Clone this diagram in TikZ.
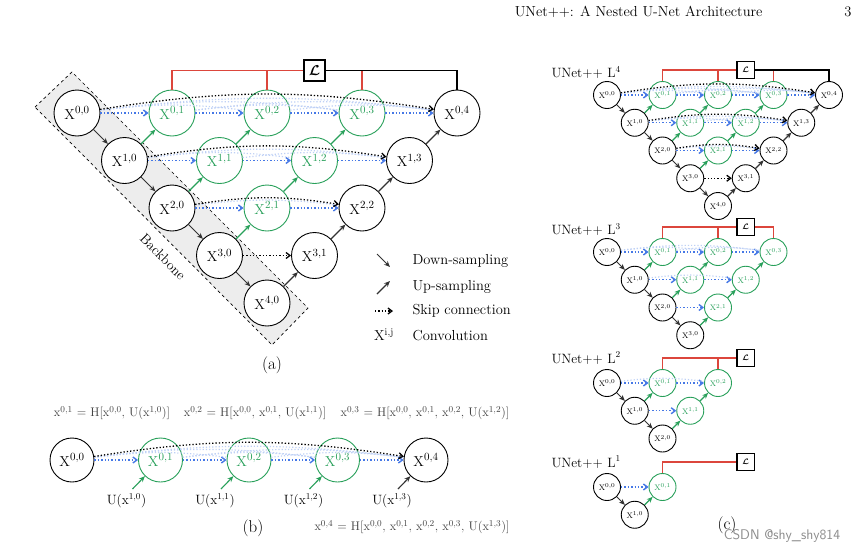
\documentclass[tikz,border=0pt]{standalone}
\usetikzlibrary{arrows.meta}
\usepackage{bm}
\definecolor{ugreen}{RGB}{40,160,90}
\definecolor{ublue}{RGB}{70,120,230}
\definecolor{ured}{RGB}{220,70,60}
\tikzset{
 cnode/.style={circle,draw,fill=white,line width=0.9pt,inner sep=0pt},
 down/.style={-{Stealth[length=6pt,width=5pt]},line width=1pt,black!80},
 upg/.style={-{Stealth[length=6pt,width=5pt]},line width=1.1pt,ugreen},
 upk/.style={-{Stealth[length=6pt,width=5pt]},line width=1.1pt,black!80},
 skipb/.style={-{Straight Barb[length=4pt,width=6pt]},dotted,line width=1.4pt,ublue},
 skipl/.style={dotted,line width=1.2pt,ublue!35},
 skipk/.style={-{Straight Barb[length=4pt,width=6pt]},dotted,line width=1.3pt,black},
 lossbox/.style={draw,fill=white,line width=1.3pt,inner sep=0pt},
}
% #1 prefix #2 x0 #3 y0 #4 dx #5 r #6 L #7 full #8 font
\newcommand\unetnet[8]{%
 \foreach \i in {0,...,#6}{%
  \pgfmathtruncatemacro\jmax{#6-\i}%
  \foreach \j in {0,...,\jmax}{%
   \pgfmathtruncatemacro\isblack{((\j==0)||((#7==1)&&(\j==\jmax)))?1:0}%
   \ifnum\isblack=1 \def\nc{black}\else\def\nc{ugreen}\fi
   \node[cnode,draw=\nc,text=\nc,minimum size=2*#5,font=#8] (#1\i\j) at ({#2+#4*(\j+\i/2)},{#3+#4*\i/2}) {$\mathrm{X}^{\i,\j}$};
  }}%
 \pgfmathsetmacro\ly{#3-1.85*#5}%
 \pgfmathsetmacro\bx{#2+2.5*#4}%
 \pgfmathsetmacro\lf{#5*0.6}%
 \foreach \j in {1,...,#6}{%
   \pgfmathtruncatemacro\isk{((#7==1)&&(\j==#6))?1:0}%
   \ifnum\isk=1 \def\lc{black}\else\def\lc{ured}\fi
   \draw[\lc,line width=1.2pt] (#10\j.north) |- (\bx,\ly);
 }%
 \node[lossbox,minimum size={0.4*#5+12}] (#1L) at (\bx,\ly) {\fontsize{\lf}{\lf}\selectfont$\bm{\mathcal{L}}$};
 \pgfmathtruncatemacro\lm{#6-1}%
 \foreach \i in {0,...,\lm}{%
  \pgfmathtruncatemacro\ip{\i+1}%
  \draw[down] (#1\i0) -- (#1\ip0);
  \pgfmathtruncatemacro\jmax{#6-\i}%
  \foreach \j in {1,...,\jmax}{%
   \pgfmathtruncatemacro\jm{\j-1}%
   \pgfmathtruncatemacro\isblack{((#7==1)&&(\j==\jmax))?1:0}%
   \ifnum\isblack=1 \draw[upk] (#1\ip\jm) -- (#1\i\j);\else\draw[upg] (#1\ip\jm) -- (#1\i\j);\fi
   \pgfmathtruncatemacro\kb{((#7==1)&&(\i==3))?1:0}%
   \ifnum\kb=1 \draw[skipk] (#1\i\jm) -- (#1\i\j);\else\draw[skipb] (#1\i\jm) -- (#1\i\j);\fi
   \ifnum\j>1
     \pgfmathtruncatemacro\km{\j-2}%
     \foreach \k in {0,...,\km}{\draw[skipl] (#1\i\k) to[bend left=7] (#1\i\j);}%
   \fi
  }%
  \pgfmathtruncatemacro\kk{((#7==1)&&(\jmax>1))?1:0}%
  \ifnum\kk=1 \draw[skipk] (#1\i0) to[bend left=9] (#1\i\jmax);\fi
 }%
}
\begin{document}
\begin{tikzpicture}[x=1pt,y=-1pt]
\useasboundingbox (0,0) rectangle (865,555);
\fill[white] (0,0) rectangle (865,555);
% header
\node[anchor=east,font=\fontsize{14.5}{15}\selectfont] (hd) at (766,12) {UNet++: A Nested U-Net Architecture};
\node[font=\fontsize{14.5}{15}\selectfont] (pg) at (848,12) {3};
% backbone
\draw[dashed,fill=black!7,line width=0.7pt] (35,107) -- (72,72) -- (308,308) -- (272,345) -- cycle;
\node[rotate=-45,font=\fontsize{14}{14}\selectfont] (bb) at (163,257) {Backbone};
% (a)
\unetnet{a}{77}{113}{95}{23}{4}{1}{\fontsize{15}{15}\selectfont}
\node[font=\fontsize{17}{17}\selectfont] (capa) at (272,365) {(a)};
% legend
\coordinate (l1s) at (377,254); \coordinate (l1e) at (390,267);
\coordinate (l2s) at (377,294); \coordinate (l2e) at (390,281);
\coordinate (l3s) at (375,311); \coordinate (l3e) at (393,311);
\draw[down] (l1s) -- (l1e);
\draw[upk] (l2s) -- (l2e);
\draw[skipk] (l3s) -- (l3e);
\node[font=\fontsize{14}{14}\selectfont] (lx) at (384,335) {$\mathrm{X}^{\mathrm{i,j}}$};
\foreach \t/\y [count=\n] in {Down-sampling/261,Up-sampling/287,Skip connection/311,Convolution/336}
  \node[anchor=west,font=\fontsize{14.5}{15}\selectfont] (lt\n) at (409,\y) {\t};
% (b)
\foreach \j in {0,...,4}{
  \ifnum\j=0 \def\nc{black}\else\ifnum\j=4 \def\nc{black}\else\def\nc{ugreen}\fi\fi
  \node[cnode,draw=\nc,text=\nc,minimum size=44pt,font=\fontsize{15}{15}\selectfont] (b\j) at ({72+88.5*\j},460) {$\mathrm{X}^{0,\j}$};
}
\foreach \j in {1,...,4}{
  \pgfmathtruncatemacro\jm{\j-1}
  \draw[skipb] (b\jm) -- (b\j);
  \ifnum\j>1 \pgfmathtruncatemacro\km{\j-2}
    \foreach \k in {0,...,\km}{\draw[skipl] (b\k) to[bend left=7] (b\j);}\fi
  \coordinate (u\j) at ({72+88.5*\j-28},489);
  \ifnum\j=4 \draw[upk] (u\j) -- (b\j);\else\draw[upg] (u\j) -- (b\j);\fi
  \node[font=\fontsize{13.5}{14}\selectfont] (ul\j) at ({72+88.5*\j-34},501) {U(x$^{1,\jm}$)};
}
\draw[skipk] (b0) to[bend left=9] (b4);
\tikzset{eq/.style={font=\fontsize{12.5}{13}\selectfont,text=black!75}}
\node[eq] (e1) at (112,413) {x$^{0,1}$ = H[x$^{0,0}$, U(x$^{1,0}$)]};
\node[eq] (e2) at (255,413) {x$^{0,2}$ = H[x$^{0,0}$, x$^{0,1}$, U(x$^{1,1}$)]};
\node[eq] (e3) at (425,413) {x$^{0,3}$ = H[x$^{0,0}$, x$^{0,1}$, x$^{0,2}$, U(x$^{1,2}$)]};
\node[eq] (e4) at (412,527) {x$^{0,4}$ = H[x$^{0,0}$, x$^{0,1}$, x$^{0,2}$, x$^{0,3}$, U(x$^{1,3}$)]};
\node[font=\fontsize{17}{17}\selectfont] (capb) at (253,528) {(b)};
% (c)
\tikzset{ct/.style={anchor=west,font=\fontsize{13.5}{14}\selectfont}}
\node[ct] (c4) at (548,73) {UNet++ L$^4$};
\unetnet{p}{607}{95}{55.5}{13.5}{4}{1}{\fontsize{8.5}{9}\selectfont}
\node[ct] (c3) at (548,230) {UNet++ L$^3$};
\unetnet{q}{607}{252}{55.5}{13.5}{3}{0}{\fontsize{8.5}{9}\selectfont}
\node[ct] (c2) at (548,358) {UNet++ L$^2$};
\unetnet{r}{607}{383}{55.5}{13.5}{2}{0}{\fontsize{8.5}{9}\selectfont}
\node[ct] (c1) at (548,462) {UNet++ L$^1$};
\unetnet{s}{607}{487}{55.5}{13.5}{1}{0}{\fontsize{8.5}{9}\selectfont}
\node[font=\fontsize{17}{17}\selectfont] (capc) at (727,525) {(c)};
\node[font=\sffamily\fontsize{14}{14}\selectfont,text=black!45] (wm) at (782,536) {CSDN @shy\_shy814};
\end{tikzpicture}
\end{document}
